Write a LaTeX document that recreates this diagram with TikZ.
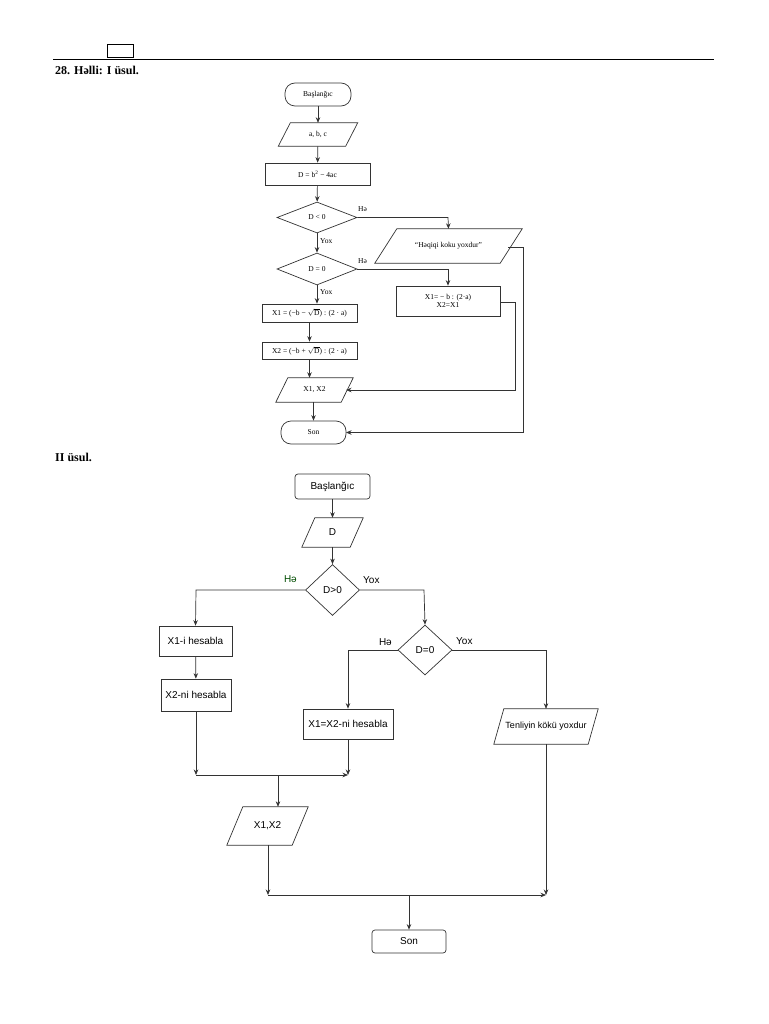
\documentclass[tikz,border=0pt]{standalone}
\usepackage{fontspec}
\setmainfont{Liberation Serif}
\newfontfamily\sansf{Liberation Sans}
\usetikzlibrary{shapes.geometric,arrows.meta}
\newcommand\pgram[6]{% name, pos, w, h, slant, text
  \node[minimum width=#3pt,minimum height=#4pt,inner sep=0pt] (#1) at (#2) {#6};
  \draw[pl] ([xshift=#5pt]#1.north west) -- (#1.north east) -- ([xshift=-#5pt]#1.south east) -- (#1.south west) -- cycle;}
\begin{document}
\begin{tikzpicture}[x=1pt,y=-1pt,
  pl/.style={draw=black!80,line width=0.7pt},
  ar/.style={draw=black!80,line width=0.7pt,-{Stealth[length=5.5pt,width=4.5pt]}},
  t1/.style={font=\fontsize{7.5}{8.5}\selectfont,inner sep=0pt,align=center},
  t2/.style={font=\sansf\fontsize{10}{11}\selectfont,inner sep=0pt,align=center}]
\useasboundingbox (0,0) rectangle (768,1024);
% header
\node[draw,line width=0.6pt,minimum width=26pt,minimum height=13pt,inner sep=0pt] (hb) at (120,50.5) {};
\coordinate (hl1) at (53,59); \coordinate (hl2) at (714,59);
\draw[line width=0.6pt] (hl1) -- (hl2);
\node[anchor=west,font=\bfseries\fontsize{12}{13}\selectfont,inner sep=0pt] (t28) at (55,70) {28. Həlli: I üsul.};
\node[anchor=west,font=\bfseries\fontsize{12}{13}\selectfont,inner sep=0pt] (t2u) at (55,457) {II üsul.};
% ---------- method I ----------
\node[pl,rounded corners=10pt,minimum width=66pt,minimum height=23pt,t1] (s1) at (318,94.5) {Başlanğıc};
\pgram{abc}{318,134.5}{79}{23}{12}{\fontsize{7.5}{8.5}\selectfont a, b, c}
\node[pl,minimum width=105pt,minimum height=22pt,t1] (dd) at (317.5,174) {D = b\textsuperscript{2} − 4ac};
\node[pl,diamond,minimum width=80pt,minimum height=31pt,inner sep=0pt,t1] (c1) at (317,217.5) {D < 0};
\pgram{hq}{448.5,246}{147}{34}{22}{\fontsize{7.5}{8.5}\selectfont “Həqiqi koku yoxdur”}
\node[pl,diamond,minimum width=80pt,minimum height=32pt,inner sep=0pt,t1] (c2) at (317,269) {D = 0};
\node[pl,minimum width=104pt,minimum height=30pt,t1] (r1) at (448,301) {X1= − b : (2·a)\\X2=X1};
\node[pl,minimum width=95pt,minimum height=18pt,t1] (x1) at (309.5,313) {X1 = (−b − $\sqrt{\mathrm{D}}$) : (2 · a)};
\node[pl,minimum width=95pt,minimum height=17pt,t1] (x2) at (309.5,350.5) {X2 = (−b + $\sqrt{\mathrm{D}}$) : (2 · a)};
\pgram{o1}{314.5,390}{77}{24}{12}{\fontsize{7.5}{8.5}\selectfont X1, X2}
\node[pl,rounded corners=10pt,minimum width=65pt,minimum height=23pt,t1] (e1) at (313.5,432.5) {Son};
\draw[ar] (s1) -- (abc);
\draw[ar] (abc) -- (dd);
\draw[ar] (dd) -- (c1);
\draw[ar] (c1.east) -- (448,217.5) -- (hq.north);
\draw[ar] (c1) -- (c2);
\draw[ar] (c2.east) -- (448,269) -- (r1.north);
\draw[ar] (c2) -- (c2|-x1.north);
\draw[ar] (x1) -- (x2);
\draw[ar] (x2) -- (x2|-o1.north);
\draw[ar] (o1.south-|e1) -- (e1);
\coordinate (o1r) at (346,390);
\coordinate (e1r) at (346,432.5);
\draw[ar] (r1.east|-0,302) -- (515,302) -- (515,390) -- (o1r);
\draw[ar] (508,247) -- (523,247) -- (523,432.5) -- (e1r);
\node[t1,anchor=west] (l1) at (358,209) {Hə};
\node[t1,anchor=west] (l2) at (320,241) {Yox};
\node[t1,anchor=west] (l3) at (358,261) {Hə};
\node[t1,anchor=west] (l4) at (320,292) {Yox};
% ---------- method II ----------
\node[pl,rounded corners=3pt,minimum width=75pt,minimum height=25pt,t2] (s2) at (332.5,486.5) {Başlanğıc};
\pgram{dn}{332.5,532.5}{61}{29}{13}{\sansf\fontsize{10}{11}\selectfont D}
\node[pl,diamond,minimum width=54pt,minimum height=51pt,inner sep=0pt,t2] (c3) at (332.5,590) {D>0};
\node[pl,minimum width=73pt,minimum height=30pt,t2] (h1) at (195.5,641) {X1-i hesabla};
\node[pl,minimum width=70pt,minimum height=32pt,t2] (h2) at (196,695) {X2-ni hesabla};
\node[pl,diamond,minimum width=54pt,minimum height=50pt,inner sep=0pt,t2] (c4) at (425,650) {D=0};
\node[pl,minimum width=90pt,minimum height=30pt,t2] (h3) at (348,724) {X1=X2-ni hesabla};
\pgram{tn}{546,726.5}{104}{35}{10}{\sansf\fontsize{9}{10}\selectfont Tenliyin kökü yoxdur}
\pgram{o2}{267.5,826}{81}{38}{16}{\sansf\fontsize{10}{11}\selectfont X1,X2}
\node[pl,rounded corners=3pt,minimum width=74pt,minimum height=23pt,t2] (e2) at (409,941.5) {Son};
\coordinate (m1) at (196,775); \coordinate (m2) at (348,775); \coordinate (m3) at (278,775);
\coordinate (n1) at (268,895); \coordinate (n2) at (546,895); \coordinate (n3) at (409,895);
\draw[ar] (s2) -- (dn);
\draw[ar] (dn) -- (c3);
\draw[ar] (c3.west) -- (196,590) -- (h1.north);
\draw[ar] (h1) -- (h2);
\draw[ar] (c3.east) -- (424,590) -- (c4.north);
\draw[ar] (c4.west) -- (348,650) -- (h3.north);
\draw[ar] (c4.east) -- (546,650) -- (tn.north);
\draw[ar] (h2) -- (m1);
\draw[ar] (h3) -- (m2);
\draw[ar] (m1) -- (m2);
\draw[ar] (m3) -- (m3|-o2.north);
\draw[ar] (o2.south-|n1) -- (n1);
\draw[ar] (tn) -- (n2);
\draw[ar] (n1) -- (n2);
\draw[ar] (n3) -- (e2);
\node[t2,anchor=east,text=black!70!green] (l5) at (297,579) {Hə};
\node[t2,anchor=west] (l6) at (363,580) {Yox};
\node[t2,anchor=east] (l7) at (392,642) {Hə};
\node[t2,anchor=west] (l8) at (456,641) {Yox};
\end{tikzpicture}
\end{document}
